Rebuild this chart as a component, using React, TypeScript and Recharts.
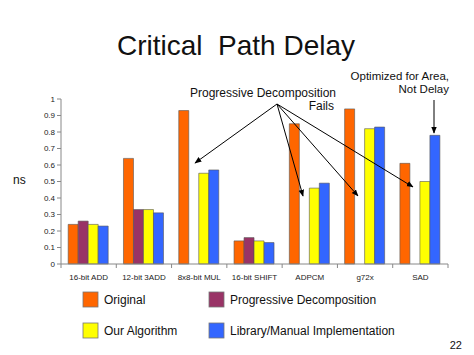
import { BarChart, Bar, XAxis, YAxis } from "recharts";

const categories = [
  "16-bit ADD",
  "12-bit 3ADD",
  "8x8-bit MUL",
  "16-bit SHIFT",
  "ADPCM",
  "g72x",
  "SAD",
];
const original = [0.24, 0.64, 0.93, 0.14, 0.85, 0.94, 0.61];
const progressive = [0.26, 0.33, null, 0.16, null, null, null];
const ourAlgorithm = [0.24, 0.33, 0.55, 0.14, 0.46, 0.82, 0.5];
const library = [0.23, 0.31, 0.57, 0.13, 0.49, 0.83, 0.78];
const yTicks = [0, 0.1, 0.2, 0.3, 0.4, 0.5, 0.6, 0.7, 0.8, 0.9, 1];

const series = [
  { key: "original", name: "Original", color: "#FF6600", values: original },
  { key: "progressive", name: "Progressive Decomposition", color: "#993366", values: progressive },
  { key: "ours", name: "Our Algorithm", color: "#FFFF00", values: ourAlgorithm },
  { key: "library", name: "Library/Manual Implementation", color: "#3366FF", values: library },
];

const data = categories.map((c, i) => {
  const row: any = { name: c };
  series.forEach((s) => (row[s.key] = s.values[i]));
  return row;
});

const FONT = "'Liberation Sans', Arial, sans-serif";

const CategoryTick = (props: any) => {
  const { x, y, payload, index } = props;
  const off = payload?.offset ?? 0;
  return (
    <g>
      {off ? <line x1={x - off} x2={x - off} y1={y - 8} y2={y - 4} stroke="#888" /> : null}
      {off && index === categories.length - 1 ? (
        <line x1={x + off} x2={x + off} y1={y - 8} y2={y - 4} stroke="#888" />
      ) : null}
      <text x={x} y={y + 8} textAnchor="middle" fontSize={8} fill="#222" fontFamily={FONT}>
        {payload.value}
      </text>
    </g>
  );
};

const legendPos = [
  { x: 83, y: 292 },
  { x: 209, y: 292 },
  { x: 83, y: 323 },
  { x: 209, y: 323 },
];

export default function App() {
  return (
    <div
      style={{
        position: "absolute",
        left: 0,
        top: 0,
        width: 474,
        height: 355,
        background: "#fff",
        fontFamily: FONT,
      }}
    >
      <BarChart
        width={474}
        height={355}
        data={data}
        margin={{ top: 99, right: 26, bottom: 61, left: 0 }}
        barCategoryGap="13%"
        barGap={0}
      >
        <XAxis
          dataKey="name"
          axisLine={{ stroke: "#888" }}
          tickLine={false}
          tick={<CategoryTick />}
          interval={0}
        />
        <YAxis
          width={61}
          domain={[0, 1]}
          ticks={yTicks}
          axisLine={{ stroke: "#888" }}
          tickLine={{ stroke: "#888" }}
          tickSize={4}
          tick={{ fontSize: 8, fill: "#222", fontFamily: FONT }}
          interval={0}
        />
        {series.map((s) => (
          <Bar
            key={s.key}
            dataKey={s.key}
            name={s.name}
            fill={s.color}
            stroke="#555"
            strokeWidth={0.6}
            isAnimationActive={false}
          />
        ))}
      </BarChart>

      <svg
        width={474}
        height={355}
        style={{ position: "absolute", left: 0, top: 0, pointerEvents: "none" }}
      >
        <defs>
          <marker id="ah" viewBox="0 0 10 10" refX="9" refY="5" markerWidth="7" markerHeight="7" orient="auto">
            <path d="M0,1 L10,5 L0,9 z" fill="#000" />
          </marker>
        </defs>
        <text x={236} y={55} textAnchor="middle" fontSize={28} fontFamily={FONT} fill="#111" style={{ whiteSpace: "pre" }}>
          {"Critical  Path Delay"}
        </text>
        <text x={13} y={184} fontSize={12} fontFamily={FONT} fill="#111">ns</text>
        <text x={263} y={97} textAnchor="middle" fontSize={12} fontFamily={FONT} fill="#111">
          Progressive Decomposition
        </text>
        <text x={334} y={110} textAnchor="end" fontSize={12} fontFamily={FONT} fill="#111">Fails</text>
        <text x={449} y={80} textAnchor="end" fontSize={11.5} fontFamily={FONT} fill="#111">Optimized for Area,</text>
        <text x={449} y={93} textAnchor="end" fontSize={11.5} fontFamily={FONT} fill="#111">Not Delay</text>
        <g stroke="#000" strokeWidth={1} markerEnd="url(#ah)">
          <line x1={277} y1={104} x2={195} y2={163} />
          <line x1={277} y1={104} x2={303} y2={196} />
          <line x1={277} y1={104} x2={358} y2={196} />
          <line x1={277} y1={104} x2={413} y2={187} />
          <line x1={434} y1={100} x2={434} y2={133} />
        </g>
        {series.map((s, i) => (
          <g key={s.key}>
            <rect x={legendPos[i].x} y={legendPos[i].y} width={15} height={15} fill={s.color} stroke="#777" strokeWidth={0.8} />
            <text x={legendPos[i].x + 21} y={legendPos[i].y + 12} fontSize={12} fontFamily={FONT} fill="#111">
              {s.name}
            </text>
          </g>
        ))}
        <text x={462} y={349} textAnchor="end" fontSize={11} fontFamily={FONT} fill="#111">22</text>
      </svg>
    </div>
  );
}
